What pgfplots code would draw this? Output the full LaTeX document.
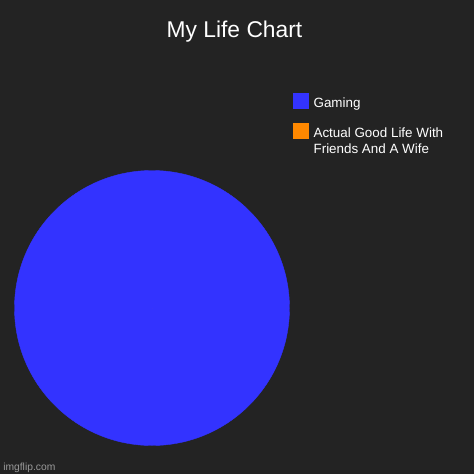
\documentclass[border=0pt]{standalone}
\usepackage{pgfplots}
\pgfplotsset{compat=1.18}
\usepackage{pgfplotstable}
\usepackage{fontspec}
\setmainfont{Liberation Sans}
\definecolor{bgcol}{HTML}{232323}
\definecolor{pieblue}{HTML}{3333FF}
\definecolor{pieorange}{HTML}{FF8800}
% slice, share of the pie (percent)
\pgfplotstableread{
x y share
152 308 100
152 308 0
}\pietable
\begin{document}
\begin{tikzpicture}
\begin{axis}[
  scale only axis, width=474pt, height=474pt,
  xmin=0, xmax=474, ymin=0, ymax=474, y dir=reverse,
  hide axis, clip=false,
  legend style={at={(axis cs:293,93)}, anchor=north west, draw=none, fill=none,
    text=white, font=\fontsize{13.4}{16}\selectfont, inner sep=0pt, row sep=12pt,
    nodes={anchor=base west}},
  legend cell align=left,
  legend image code/.code={\fill[#1] (0pt,-1pt) rectangle (15pt,14pt); \path (18pt,0pt);},
]
\fill[bgcol] (rel axis cs:0,0) rectangle (rel axis cs:1,1);
% Gaming takes the whole pie: one disc of the full radius at the centre
\addplot[only marks, mark=*, mark size=137.5pt, color=pieblue, fill=pieblue]
  table[x=x, y=y, restrict expr to domain={\thisrow{share}}{1:100}] {\pietable};
\addlegendentry{Gaming}
% the other slice has a share of 0 and draws nothing
\addplot[only marks, mark=*, mark size=0pt, mark options={draw=none, fill=none},
  color=pieorange, fill=pieorange]
  table[x=x, y=y] {\pietable};
\addlegendentry{\begin{tabular}[t]{@{}l@{}}Actual Good Life With\\Friends And A Wife\end{tabular}}
\node[anchor=base, text=white, font=\fontsize{22.8}{26}\selectfont, inner sep=0pt]
  at (rel axis cs:0.4947,0.921) {My Life Chart};
\node[anchor=base west, text=gray!80!white, font=\fontsize{10.3}{12}\selectfont, inner sep=0pt]
  at (rel axis cs:0.0065,0.0084) {imgflip.com};
\end{axis}
\end{tikzpicture}
\end{document}
